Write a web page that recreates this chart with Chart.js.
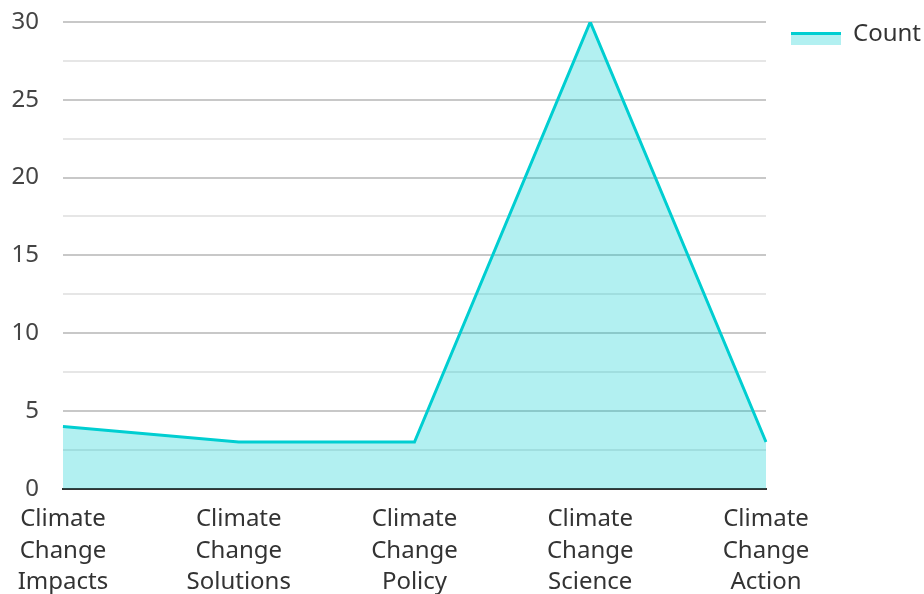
<!DOCTYPE html>
<html>
<head>
<meta charset="utf-8">
<script src="https://cdn.jsdelivr.net/npm/chart.js@4/dist/chart.umd.min.js"></script>
<style>
  html, body { margin: 0; padding: 0; background: #fff; }
  #wrap { width: 924px; height: 594px; }
</style>
</head>
<body>
<div id="wrap"><canvas id="chart" width="924" height="594"></canvas></div>
<script>
// Topic counts
const categories = [
  ['Climate', 'Change', 'Impacts'],
  ['Climate', 'Change', 'Solutions'],
  ['Climate', 'Change', 'Policy'],
  ['Climate', 'Change', 'Science'],
  ['Climate', 'Change', 'Action']
];
const seriesName = 'Count';
const counts = [4, 3, 3, 30, 3];
const yMin = 0;
const yMax = 30;
const yLabelStep = 5;
const yGridStep = 2.5;

const LINE = '#00CED1';
const FILL = 'rgba(0, 206, 209, 0.3)';
const FONT = 'Noto Sans';

// Legend swatch: a thick line on top of a filled band, sitting a little below the text middle
function makeSwatch() {
  const c = document.createElement('canvas');
  c.width = 50; c.height = 26;
  const g = c.getContext('2d');
  g.fillStyle = FILL;
  g.fillRect(0, 11, 50, 13);
  g.fillStyle = LINE;
  g.fillRect(0, 11, 50, 3);
  return c;
}

new Chart(document.getElementById('chart'), {
  type: 'line',
  data: {
    labels: categories,
    datasets: [{
      label: seriesName,
      data: counts,
      borderColor: LINE,
      backgroundColor: FILL,
      borderWidth: 3,
      fill: 'origin',
      tension: 0,
      pointRadius: 0,
      pointHoverRadius: 0
    }]
  },
  options: {
    responsive: false,
    animation: false,
    layout: { padding: { top: -11, left: 11.5, right: 0, bottom: -19 } },
    plugins: {
      tooltip: { enabled: false },
      legend: {
        position: 'right',
        align: 'start',
        maxWidth: 158,
        title: { display: true, text: ' ', padding: 0, font: { size: 8, lineHeight: 1 } },
        labels: {
          usePointStyle: true,
          pointStyle: makeSwatch(),
          pointStyleWidth: 50,
          boxHeight: 13,
          padding: 25,
          color: '#333',
          font: { family: FONT, size: 24, lineHeight: 1 }
        }
      }
    },
    scales: {
      x: {
        offset: false,
        grid: { display: false, drawTicks: false },
        border: { display: true, color: '#333', width: 2 },
        ticks: {
          color: '#333',
          padding: 15,
          maxRotation: 0,
          autoSkip: false,
          font: { family: FONT, size: 24, lineHeight: 1.31 }
        }
      },
      y: {
        min: yMin,
        max: yMax,
        grid: {
          drawTicks: true,
          tickLength: 24,
          tickColor: 'rgba(0,0,0,0)',
          color: (ctx) => (ctx.tick && ctx.tick.value % yLabelStep === 0) ? '#c8c8c8' : '#e6e6e6',
          lineWidth: 2
        },
        border: { display: false },
        ticks: {
          stepSize: yGridStep,
          autoSkip: false,
          padding: 0,
          color: '#444',
          font: { family: FONT, size: 24, lineHeight: 1.83 },
          callback: (v) => (v % yLabelStep === 0 ? String(v) : '')
        }
      }
    }
  }
});
</script>
</body>
</html>
